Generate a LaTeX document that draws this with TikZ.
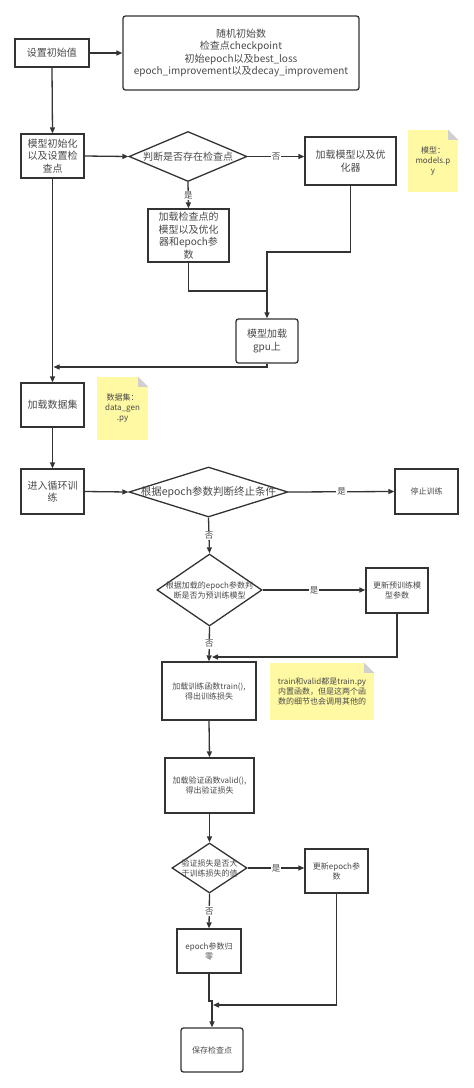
\documentclass[tikz,border=0pt]{standalone}
\usepackage{fontspec}
\setmainfont{Noto Sans CJK SC}
\usetikzlibrary{arrows.meta,shapes.geometric,calc}
\definecolor{lc}{HTML}{333333}
\definecolor{tx}{HTML}{4A4A4A}
\definecolor{notey}{HTML}{FFF9A3}
\definecolor{foldc}{HTML}{D0D0D0}
\tikzset{
 box/.style={draw=lc, line width=1.3pt, fill=white, text=tx, align=center, inner sep=0pt, font=\fontsize{10}{12.5}\selectfont},
 sbox/.style={box, font=\fontsize{8}{10}\selectfont},
 rbox/.style={rounded corners=2.5pt},
 dia/.style={draw=lc, line width=1.3pt, diamond, inner sep=0pt, fill=white},
 dtext/.style={text=tx, align=center, inner sep=0pt},
 note/.style={fill=notey, inner sep=0pt, text=tx, align=center, font=\fontsize{8}{10}\selectfont},
 arr/.style={draw=lc, line width=1.3pt, -{Triangle[length=6pt,width=5pt]}},
 conn/.style={draw=lc, line width=1.3pt},
 lab/.style={fill=white, text=tx, inner sep=1pt, font=\fontsize{8.5}{10}\selectfont},
}
\newcommand{\notefold}[1]{%
  \fill[white] ($(#1.north east)+(-10,0)$) -- (#1.north east) -- ($(#1.north east)+(0,10)$) -- cycle;
  \fill[foldc] ($(#1.north east)+(-10,0)$) -- ($(#1.north east)+(-10,10)$) -- ($(#1.north east)+(0,10)$) -- cycle;}
\begin{document}
\begin{tikzpicture}[x=1pt,y=-1pt]
\useasboundingbox (0,0) rectangle (474,1088);
\fill[white] (0,0) rectangle (474,1088);

% nodes
\node[box, minimum width=74pt, minimum height=28pt] (init) at (52,53) {设置初始值};
\node[box, rbox, minimum width=236pt, minimum height=74pt] (big) at (241,53)
  {随机初始数\\检查点checkpoint\\初始epoch以及best\_loss\\epoch\_improvement以及decay\_improvement};
\node[box, minimum width=63pt, minimum height=44pt] (minit) at (52.5,156) {模型初始化\\以及设置检\\查点};
\node[dia, minimum width=118pt, minimum height=50pt] (d1) at (188,156.5) {};
\node[dtext, font=\fontsize{10}{12.5}\selectfont] (d1t) at (d1.center) {判断是否存在检查点};
\node[box, minimum width=91pt, minimum height=48pt] (loadm) at (350.5,161) {加载模型以及优\\化器};
\node[note, minimum width=50pt, minimum height=62pt] (n1) at (433,161) {模型：\\models.p\\y};
\notefold{n1}
\node[box, minimum width=81pt, minimum height=53pt] (loadck) at (188.5,235.5) {加载检查点的\\模型以及优化\\器和epoch参\\数};
\node[box, rbox, minimum width=62pt, minimum height=44pt] (gpu) at (267,341) {模型加载\\gpu上};
\node[box, minimum width=63pt, minimum height=44pt] (data) at (52.5,405) {加载数据集};
\node[note, minimum width=51pt, minimum height=63pt] (n2) at (122.5,408.5) {数据集：\\data\_gen\\.py};
\notefold{n2}
\node[box, minimum width=63pt, minimum height=45pt] (loop) at (52.5,491.5) {进入循环训\\练};
\node[dia, minimum width=159pt, minimum height=50pt] (d2) at (208.5,492) {};
\node[dtext, font=\fontsize{10.5}{12.5}\selectfont] (d2t) at (d2.center) {根据epoch参数判断终止条件};
\node[sbox, minimum width=63pt, minimum height=45pt] (stop) at (426.5,491.5) {停止训练};
\node[dia, minimum width=105pt, minimum height=72pt] (d3) at (209.5,590) {};
\node[dtext, font=\fontsize{8}{10}\selectfont] (d3t) at (d3.center) {根据加载的epoch参数判\\断是否为预训练模型};
\node[sbox, minimum width=62pt, minimum height=45pt] (pre) at (397,590.5) {更新预训练模\\型参数};
\node[sbox, minimum width=94pt, minimum height=58pt] (train) at (209,691) {加载训练函数train(),\\得出训练损失};
\node[note, minimum width=104pt, minimum height=57pt] (n3) at (322,691.5) {train和valid都是train.py\\内置函数，但是这两个函\\数的细节也会调用其他的};
\notefold{n3}
\node[sbox, minimum width=89pt, minimum height=55pt] (valid) at (209.5,785.5) {加载验证函数valid(),\\得出验证损失};
\node[dia, minimum width=75pt, minimum height=50pt] (d4) at (209.5,868) {};
\node[dtext, font=\fontsize{8}{10}\selectfont] (d4t) at (d4.center) {验证损失是否大\\于训练损失的值};
\node[sbox, minimum width=63pt, minimum height=44pt] (upd) at (336.5,871) {更新epoch参\\数};
\node[sbox, minimum width=64pt, minimum height=44pt] (zero) at (209,951) {epoch参数归\\零};
\node[sbox, rbox, minimum width=62pt, minimum height=44pt] (save) at (212,1050) {保存检查点};

% connectors
\draw[arr] (init.east) -- (big.west |- init.east);
\draw[arr] (init.south) -- (minit.north);
\draw[arr] (minit.east) -- (d1.west);
\draw[arr] (d1.east) -- node[lab] (l1) {否} (d1.east -| loadm.west);
\draw[arr] (d1.south) -- node[lab] (l2) {是} (loadck.north);
\draw[arr] (loadm.south) -- (loadm.south |- 0,252) -| (gpu.north);
\draw[conn] (loadck.south) |- (gpu.north |- 0,291);
\draw[arr] (gpu.south) |- ($(minit.south |- 0,367)+(1,0)$);
\draw[arr] (minit.south) -- (data.north);
\draw[arr] (data.south) -- (loop.north);
\draw[arr] (loop.east) -- (d2.west);
\draw[arr] (d2.east) -- node[lab] (l3) {是} (stop.west);
\draw[arr] (d2.south) -- node[lab] (l4) {否} (d3.north);
\draw[arr] (d3.east) -- node[lab] (l5) {是} (d3.east -| pre.west);
\draw[arr] (pre.south) |- ($(train.north |- 0,657)+(3,0)$);
\draw[arr] (d3.south) -- node[lab] (l6) {否} (train.north);
\draw[arr] (train.south) -- (valid.north);
\draw[arr] (valid.south) -- (d4.north);
\draw[arr] (d4.east) -- node[lab] (l7) {是} (d4.east -| upd.west);
\draw[arr] (d4.south) -- node[lab] (l8) {否} (zero.north);
\draw[arr] (zero.south) -- (zero.south |- 0,1001) -| (save.north);
\draw[arr] (upd.south) |- ($(save.north |- 0,1005)+(1,0)$);
\end{tikzpicture}
\end{document}
